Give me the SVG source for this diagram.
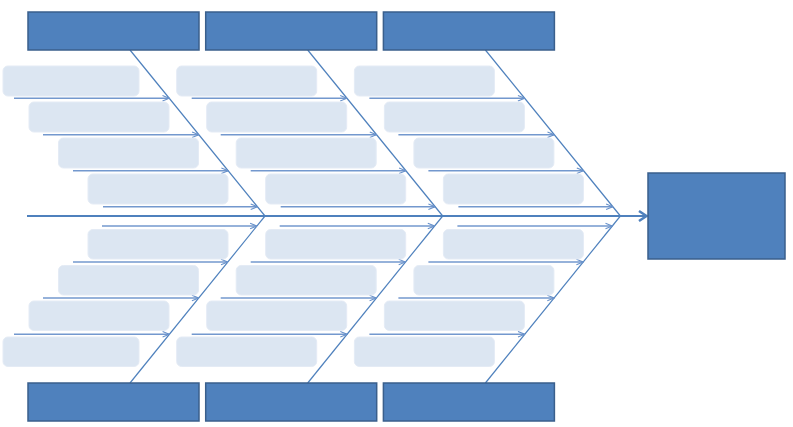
<svg xmlns="http://www.w3.org/2000/svg" width="793" height="427" viewBox="0 0 793 427">
<style>
.cat{fill:#4F81BD;stroke:#3A5F8C;stroke-width:1.5}
.sub{fill:#DCE6F2;stroke:#E4EBF5;stroke-width:1}
.bone{stroke:#4F81BD;stroke-width:1.2;fill:none}
.arr{stroke:#7398CE;stroke-width:1.4;fill:none;marker-end:url(#ah)}
.spine{stroke:#4F81BD;stroke-width:2;fill:none}
</style>
<defs>
<marker id="ah" viewBox="0 0 10 10" refX="9.5" refY="5" markerWidth="8" markerHeight="8" markerUnits="userSpaceOnUse" orient="auto">
<path d="M1,1.5 L9.5,5 L1,8.5" fill="none" stroke="#6690CA" stroke-width="1.3"/>
</marker>
</defs>
<g id="connectors">
<line class="spine" x1="27" y1="216" x2="646" y2="216"/>
<path d="M639,211 L646.5,216 L639,221" fill="none" stroke="#4F81BD" stroke-width="2.5"/>
<line class="bone" x1="130" y1="50" x2="265" y2="216"/>
<line class="bone" x1="307.7" y1="50" x2="442.7" y2="216"/>
<line class="bone" x1="485.4" y1="50" x2="620.4" y2="216"/>
<line class="bone" x1="265" y1="216" x2="130" y2="383"/>
<line class="bone" x1="442.7" y1="216" x2="307.7" y2="383"/>
<line class="bone" x1="620.4" y1="216" x2="485.4" y2="383"/>
<line class="arr" x1="14" y1="98.3" x2="169.3" y2="98.3"/>
<line class="arr" x1="43" y1="134.7" x2="198.9" y2="134.7"/>
<line class="arr" x1="73" y1="170.7" x2="228.2" y2="170.7"/>
<line class="arr" x1="103" y1="206.7" x2="257.5" y2="206.7"/>
<line class="arr" x1="191.7" y1="98.3" x2="347" y2="98.3"/>
<line class="arr" x1="220.7" y1="134.7" x2="376.6" y2="134.7"/>
<line class="arr" x1="250.7" y1="170.7" x2="405.9" y2="170.7"/>
<line class="arr" x1="280.7" y1="206.7" x2="435.2" y2="206.7"/>
<line class="arr" x1="369.4" y1="98.3" x2="524.7" y2="98.3"/>
<line class="arr" x1="398.4" y1="134.7" x2="554.3" y2="134.7"/>
<line class="arr" x1="428.4" y1="170.7" x2="583.6" y2="170.7"/>
<line class="arr" x1="458.4" y1="206.7" x2="612.9" y2="206.7"/>
<line class="arr" x1="102" y1="226" x2="256.9" y2="226"/>
<line class="arr" x1="73" y1="262" x2="227.8" y2="262"/>
<line class="arr" x1="43" y1="298" x2="198.7" y2="298"/>
<line class="arr" x1="14" y1="334.3" x2="169.4" y2="334.3"/>
<line class="arr" x1="279.7" y1="226" x2="434.6" y2="226"/>
<line class="arr" x1="250.7" y1="262" x2="405.5" y2="262"/>
<line class="arr" x1="220.7" y1="298" x2="376.4" y2="298"/>
<line class="arr" x1="191.7" y1="334.3" x2="347.1" y2="334.3"/>
<line class="arr" x1="457.4" y1="226" x2="612.3" y2="226"/>
<line class="arr" x1="428.4" y1="262" x2="583.2" y2="262"/>
<line class="arr" x1="398.4" y1="298" x2="554.1" y2="298"/>
<line class="arr" x1="369.4" y1="334.3" x2="524.8" y2="334.3"/>
</g>
<g id="effect"><rect class="cat" x="648" y="173" width="137" height="86"/></g>
<g id="cat-top-1"><rect class="cat" x="28" y="12" width="171" height="38"/></g>
<g id="cat-top-2"><rect class="cat" x="205.7" y="12" width="171" height="38"/></g>
<g id="cat-top-3"><rect class="cat" x="383.4" y="12" width="171" height="38"/></g>
<g id="cat-bot-1"><rect class="cat" x="28" y="383" width="171" height="38"/></g>
<g id="cat-bot-2"><rect class="cat" x="205.7" y="383" width="171" height="38"/></g>
<g id="cat-bot-3"><rect class="cat" x="383.4" y="383" width="171" height="38"/></g>
<g id="sub-t1-1"><rect class="sub" x="3" y="66" width="136" height="30" rx="5"/></g>
<g id="sub-t1-2"><rect class="sub" x="29" y="102" width="140" height="30" rx="5"/></g>
<g id="sub-t1-3"><rect class="sub" x="58.5" y="138" width="140" height="30" rx="5"/></g>
<g id="sub-t1-4"><rect class="sub" x="88" y="174" width="140" height="30" rx="5"/></g>
<g id="sub-t2-1"><rect class="sub" x="176.7" y="66" width="140" height="30" rx="5"/></g>
<g id="sub-t2-2"><rect class="sub" x="206.7" y="102" width="140" height="30" rx="5"/></g>
<g id="sub-t2-3"><rect class="sub" x="236.2" y="138" width="140" height="30" rx="5"/></g>
<g id="sub-t2-4"><rect class="sub" x="265.7" y="174" width="140" height="30" rx="5"/></g>
<g id="sub-t3-1"><rect class="sub" x="354.4" y="66" width="140" height="30" rx="5"/></g>
<g id="sub-t3-2"><rect class="sub" x="384.4" y="102" width="140" height="30" rx="5"/></g>
<g id="sub-t3-3"><rect class="sub" x="413.9" y="138" width="140" height="30" rx="5"/></g>
<g id="sub-t3-4"><rect class="sub" x="443.4" y="174" width="140" height="30" rx="5"/></g>
<g id="sub-b1-1"><rect class="sub" x="88" y="229.5" width="140" height="29.5" rx="5"/></g>
<g id="sub-b1-2"><rect class="sub" x="58.5" y="265.5" width="140" height="29.5" rx="5"/></g>
<g id="sub-b1-3"><rect class="sub" x="29" y="301" width="140" height="29.5" rx="5"/></g>
<g id="sub-b1-4"><rect class="sub" x="3" y="337" width="136" height="29.5" rx="5"/></g>
<g id="sub-b2-1"><rect class="sub" x="265.7" y="229.5" width="140" height="29.5" rx="5"/></g>
<g id="sub-b2-2"><rect class="sub" x="236.2" y="265.5" width="140" height="29.5" rx="5"/></g>
<g id="sub-b2-3"><rect class="sub" x="206.7" y="301" width="140" height="29.5" rx="5"/></g>
<g id="sub-b2-4"><rect class="sub" x="176.7" y="337" width="140" height="29.5" rx="5"/></g>
<g id="sub-b3-1"><rect class="sub" x="443.4" y="229.5" width="140" height="29.5" rx="5"/></g>
<g id="sub-b3-2"><rect class="sub" x="413.9" y="265.5" width="140" height="29.5" rx="5"/></g>
<g id="sub-b3-3"><rect class="sub" x="384.4" y="301" width="140" height="29.5" rx="5"/></g>
<g id="sub-b3-4"><rect class="sub" x="354.4" y="337" width="140" height="29.5" rx="5"/></g>
</svg>
